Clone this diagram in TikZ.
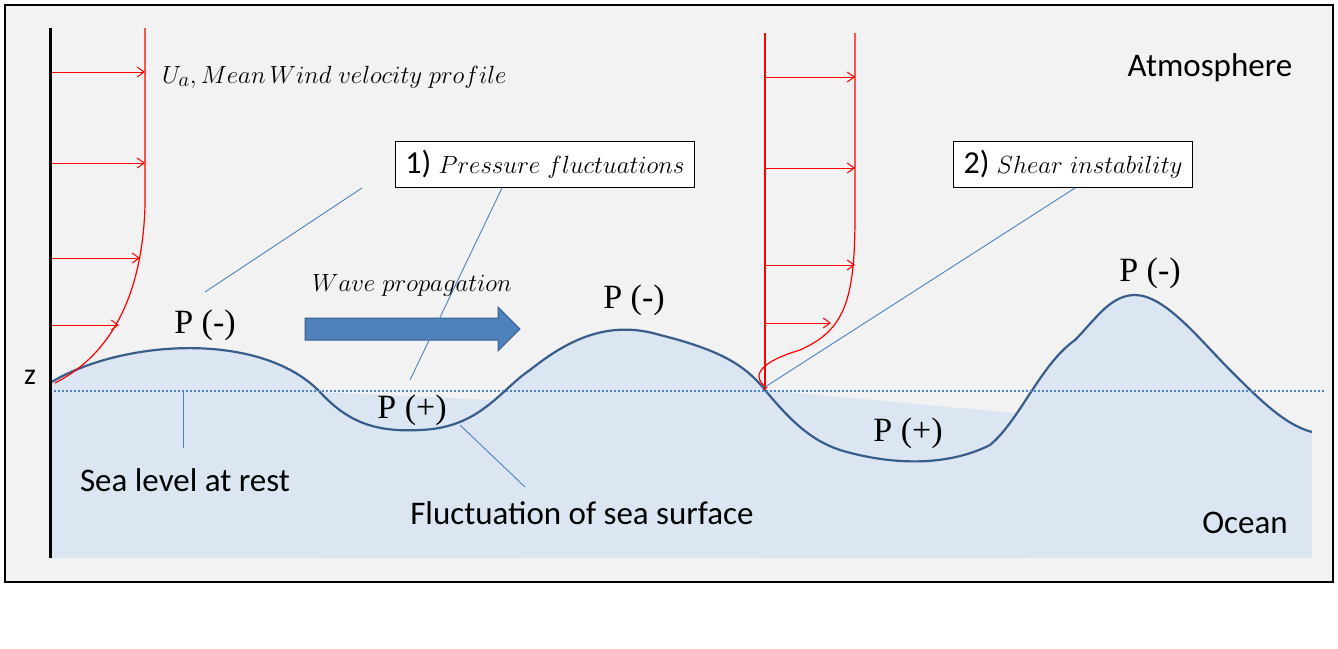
\documentclass[tikz,border=0pt]{standalone}
\usepackage{fontspec}
\usetikzlibrary{arrows.meta}
\setmainfont{Carlito}
\newfontfamily\tnr{Liberation Serif}
\begin{document}
\begin{tikzpicture}[x=1pt,y=-1pt]
\definecolor{bgg}{HTML}{F2F2F2}
\definecolor{sea}{HTML}{DCE6F2}
\definecolor{wave}{HTML}{385D8A}
\definecolor{lead}{HTML}{4F81BD}
\tikzset{lbl/.style={font=\fontsize{33}{38}\selectfont,inner sep=0pt},
 pl/.style={font=\tnr\fontsize{34}{38}\selectfont,inner sep=0pt},
 leader/.style={draw=lead,line width=0.9pt},
 wind/.style={red,line width=1.2pt},
 warr/.style={red,line width=1pt,-{Straight Barb[length=7pt,width=10pt]}},
 box/.style={draw=black,line width=1pt,fill=white,inner xsep=10pt,minimum height=46pt,font=\fontsize{32}{36}\selectfont}}
\useasboundingbox (0,0) rectangle (1338,648);
\fill[white] (0,0) rectangle (1338,648);
\draw[line width=2.5pt,fill=bgg] (5,5) rectangle (1333,582);
% ocean fill
\fill[sea] (50,558) -- (50,383) .. controls (120,340) and (260,330) .. (320,392) .. controls (350,425) and (380,432) .. (420,430) .. controls (480,428) and (500,390) .. (530,370) .. controls (570,338) and (610,320) .. (660,335) .. controls (720,350) and (745,365) .. (765,390) .. controls (790,420) and (810,440) .. (840,450) .. controls (880,462) and (940,470) .. (990,445) .. controls (1020,420) and (1040,365) .. (1075,340) .. controls (1095,320) and (1110,295) .. (1135,295) .. controls (1165,295) and (1200,340) .. (1230,370) .. controls (1260,400) and (1285,425) .. (1312,432) -- (1312,558) -- cycle;
\fill[sea] (320,392) -- (515,401) -- (515,558) -- (320,558) -- cycle;
\fill[sea] (765,390) -- (1025,414) -- (1025,558) -- (765,558) -- cycle;
% wave
\draw[wave,line width=2.2pt] (50,383) .. controls (120,340) and (260,330) .. (320,392) .. controls (350,425) and (380,432) .. (420,430) .. controls (480,428) and (500,390) .. (530,370) .. controls (570,338) and (610,320) .. (660,335) .. controls (720,350) and (745,365) .. (765,390) .. controls (790,420) and (810,440) .. (840,450) .. controls (880,462) and (940,470) .. (990,445) .. controls (1020,420) and (1040,365) .. (1075,340) .. controls (1095,320) and (1110,295) .. (1135,295) .. controls (1165,295) and (1200,340) .. (1230,370) .. controls (1260,400) and (1285,425) .. (1312,432);
\draw[lead,dotted,line width=2pt] (50,391) -- (1325,391);
% axis
\draw[line width=3pt] (50,28) -- (50,558);
\node[font=\fontsize{30}{34}\selectfont,inner sep=0pt] (z) at (30,377) {z};
% left wind profile
\draw[wind] (145,28) -- (145,205) .. controls (143,280) and (120,350) .. (55,383);
\foreach \yy/\xx in {72/145,163/145,258/140,325/119}{\draw[warr] (52,\yy) -- (\xx,\yy);}
% right wind profile
\draw[wind] (765,33) -- (765,390);
\draw[wind] (855,33) -- (855,215) .. controls (855,300) and (845,330) .. (800,350) .. controls (750,365) and (755,380) .. (767,388);
\foreach \yy/\xx in {77/855,168/855,265/855,323/831}{\draw[warr] (765,\yy) -- (\xx,\yy);}
% labels
\node[anchor=west,inner sep=0pt,font=\fontsize{30}{34}\selectfont] (ua) at (162,77) {$U_a, Mean\,Wind\ velocity\ profile$};
\node[lbl] (atm) at (1210,68) {Atmosphere};
\node[box] (b1) at (545,164) {1) $Pressure\ fluctuations$};
\node[box] (b2) at (1073,164) {2) $Shear\ instability$};
\node[font=\fontsize{32}{36}\selectfont,inner sep=0pt] (wp) at (412,285) {$Wave\ propagation$};
\fill[lead,draw=wave,line width=1pt] (305,318) -- (498,318) -- (498,307) -- (520,329) -- (498,351) -- (498,340) -- (305,340) -- cycle;
\node[pl] (pm1) at (205,325) {P (-)};
\node[pl] (pm2) at (634,300) {P (-)};
\node[pl] (pm3) at (1150,273) {P (-)};
\node[pl] (pp1) at (412,410) {P (+)};
\node[pl] (pp2) at (908,433) {P (+)};
\node[lbl] (slr) at (185,480) {Sea level at rest};
\node[lbl] (fss) at (582,513) {Fluctuation of sea surface};
\node[lbl] (oc) at (1245,523) {Ocean};
% leaders
\coordinate (l1) at (205,292); \coordinate (l2) at (410,380); \coordinate (l3) at (765,387);
\coordinate (s1) at (183,392); \coordinate (f1) at (460,425);
\draw[leader] (362,188) -- (l1);
\draw[leader] (502,188) -- (l2);
\draw[leader] (1075,188) -- (l3);
\draw[leader] (s1) -- (183,448);
\draw[leader] (f1) -- (525,487);
\end{tikzpicture}
\end{document}
